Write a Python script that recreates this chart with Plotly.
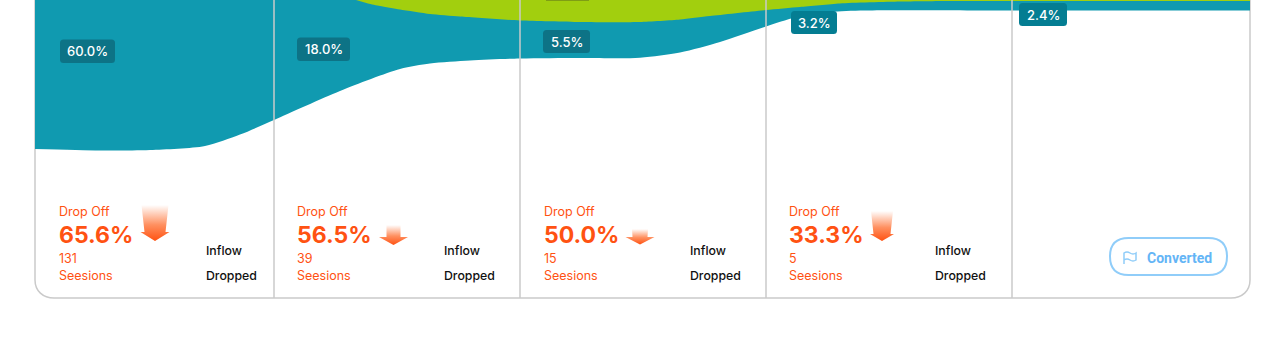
import plotly.graph_objects as go

# Funnel flow edges (axis units = image pixels)
teal_edge_x = [35, 100, 150, 205, 240, 274, 340, 400, 430, 470, 520, 580, 640, 680, 720, 763, 797, 830, 865, 1012, 1250]
teal_edge_y = [149, 150.5, 150, 146, 134.5, 120, 91, 69, 63.5, 60.5, 58.5, 58, 57.7, 52.5, 42, 27.5, 17, 12, 10.5, 10.5, 10.5]
green_edge_x = [356, 368, 380, 400, 430, 460, 520, 580, 640, 680, 710, 766, 800, 840, 900, 950, 1012, 1250]
green_edge_y = [0, 3.5, 6, 9.5, 14, 16.5, 20.5, 22, 22, 19.5, 16, 10, 7, 3.5, 1.6, 1, 1, 1]

# Step data
rates = ["60.0%", "18.0%", "5.5%", "3.2%", "2.4%"]
drop_pct = ["65.6%", "56.5%", "50.0%", "33.3%"]
drop_sessions = ["131", "39", "15", "5"]
inflow_label = "Inflow"
dropped_label = "Dropped"
drop_label = "Drop Off"
sessions_label = "Seesions"
cta_label = "Converted"

# Layout constants
W, H = 1280, 361
TEAL, GREEN = "#109AB0", "#A2CF0E"
ORANGE = "#FF5212"
LINE = "#CACACA"
dividers = [274, 520, 766, 1012]
text_x = [57, 295, 542, 787]
side_x = [204, 442, 688, 933]
badges = [(60, 115, 39.5, 63, "#0D7386"), (297, 350, 37.5, 61, "#0D7386"), (543, 590, 30, 53, "#0D7386"),
          (791, 837, 11, 34, "#047D92"), (1019, 1067, 3, 26, "#047D92")]
# arrow: centre, head half-width, shaft half-width top, shaft half-width bottom, top, wing, tip
arrows = [(155, 14.5, 13.5, 10.5, 205, 232, 241), (393.5, 14.5, 7, 7, 225, 237, 245),
          (640, 14.5, 8, 7.5, 229, 237, 244.5), (882, 12, 11, 8.5, 211, 234, 241)]

fig = go.Figure()
fig.add_trace(go.Scatter(x=teal_edge_x, y=teal_edge_y, mode="lines", line=dict(color=TEAL, width=0, shape="spline", smoothing=0.8),
                         fill="tozeroy", fillcolor=TEAL, hoverinfo="skip", showlegend=False))
fig.add_trace(go.Scatter(x=green_edge_x, y=green_edge_y, mode="lines", line=dict(color=GREEN, width=0, shape="spline", smoothing=0.6),
                         fill="tozeroy", fillcolor=GREEN, hoverinfo="skip", showlegend=False))

for c, hw, st, sb, top, wing, tip in arrows:
    fig.add_trace(go.Scatter(
        x=[c - st, c + st, c + sb, c + hw, c, c - hw, c - sb, c - st],
        y=[top, top, wing, wing, tip, wing, wing, top],
        mode="lines", line=dict(width=0), fill="toself", hoverinfo="skip", showlegend=False,
        fillgradient=dict(type="vertical", start=top, stop=tip,
                          colorscale=[[0, "rgba(255,255,255,1)"], [0.55, "#FF9060"], [1, "#FF5212"]]),
    ))


def rrect(x0, x1, y0, y1, r):
    return (f"M{x0+r},{y0} L{x1-r},{y0} Q{x1},{y0} {x1},{y0+r} L{x1},{y1-r} Q{x1},{y1} {x1-r},{y1} "
            f"L{x0+r},{y1} Q{x0},{y1} {x0},{y1-r} L{x0},{y0+r} Q{x0},{y0} {x0+r},{y0} Z")


shapes = [dict(type="path", layer="below", line=dict(color=LINE, width=1.5),
               path="M35,0 L35,280 C35,291 43,298 54,298 L1231,298 C1242,298 1250,291 1250,280 L1250,0")]
for x in dividers:
    shapes.append(dict(type="line", x0=x, x1=x, y0=0, y1=298, layer="above", line=dict(color=LINE, width=1.5)))
shapes.append(dict(type="path", layer="above", line=dict(width=0), fillcolor="#7F9E14", path="M546,0 L589,0 L589,1 L546,1 Z"))
for x0, x1, y0, y1, col in badges:
    shapes.append(dict(type="path", layer="above", line=dict(width=0), fillcolor=col, path=rrect(x0, x1, y0, y1, 3.5)))
shapes.append(dict(type="path", layer="above", line=dict(color="#90CDF9", width=2), fillcolor="rgba(255,255,255,0)",
                   path=rrect(1110, 1227, 238, 275, 18.5)))
shapes.append(dict(type="path", layer="above", line=dict(color="#90CDF9", width=1.5),
                   path="M1124,264 L1124,253 Q1127,251 1130,253 Q1133,255 1136,253 L1136,260 Q1133,262 1130,260 Q1127,258 1124,260"))

ann = []


def txt(x, y, s, size, color, weight=400, family="Inter", anchor="left"):
    ann.append(dict(x=x, y=y, text=s, showarrow=False, xanchor=anchor, yanchor="middle", xref="x", yref="y",
                    font=dict(family=family, size=size, color=color, weight=weight)))


for (x0, x1, y0, y1, _), r in zip(badges, rates):
    txt((x0 + x1) / 2, (y0 + y1) / 2, r, 13, "#FFFFFF", 500, anchor="center")
for tx, sx, p, n in zip(text_x, side_x, drop_pct, drop_sessions):
    txt(tx, 211.5, drop_label, 12.5, ORANGE)
    txt(tx, 235, p, 23, ORANGE, 700)
    txt(tx, 258, n, 12.5, ORANGE)
    txt(tx, 275, sessions_label, 12.5, ORANGE)
    txt(sx, 250.5, inflow_label, 12.3, "#111111", 500)
    txt(sx, 275, dropped_label, 12.3, "#111111", 500)
txt(1179.5, 258, cta_label, 14, "#64B5F6", 700, "Roboto", "center")

fig.update_layout(
    width=W, height=H, margin=dict(l=0, r=0, t=0, b=0), autosize=False,
    paper_bgcolor="white", plot_bgcolor="white", showlegend=False,
    xaxis=dict(range=[0, W], visible=False, fixedrange=True),
    yaxis=dict(range=[H, 0], visible=False, fixedrange=True),
    shapes=shapes, annotations=ann,
)
fig.write_html("out.html", config=dict(displayModeBar=False),
               post_script="document.body.style.margin='0';document.body.style.overflow='hidden';")
